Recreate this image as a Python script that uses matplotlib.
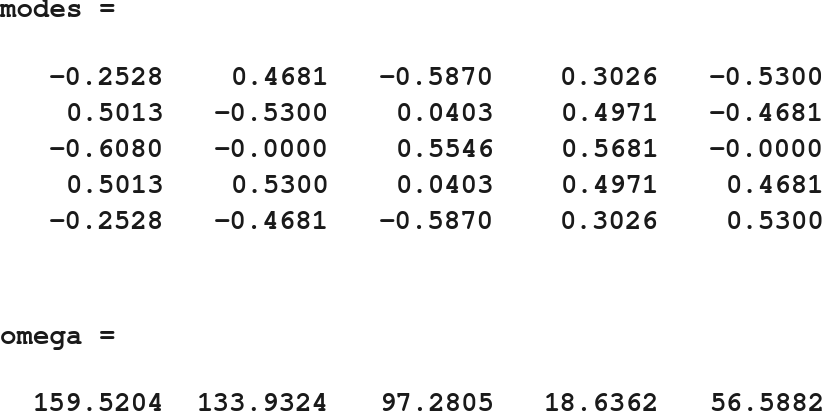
import matplotlib
matplotlib.use("Agg")
import matplotlib.pyplot as plt

modes_row1 = [-0.2528, 0.4681, -0.5870, 0.3026, -0.5300]
modes_row2 = [0.5013, -0.5300, 0.0403, 0.4971, -0.4681]
modes_row3 = [-0.6080, -0.0000, 0.5546, 0.5681, -0.0000]
modes_row4 = [0.5013, 0.5300, 0.0403, 0.4971, 0.4681]
modes_row5 = [-0.2528, -0.4681, -0.5870, 0.3026, 0.5300]
omega = [159.5204, 133.9324, 97.2805, 18.6362, 56.5882]

modes = [modes_row1, modes_row2, modes_row3, modes_row4, modes_row5]

fig = plt.figure(figsize=(8.3, 4.2), dpi=100)
ax = fig.add_axes([0, 0, 1, 1])
ax.set_xlim(0, 830)
ax.set_ylim(420, 0)
ax.axis("off")

fams = ["Courier New", "Nimbus Mono PS", "FreeMono", "Courier", "Liberation Mono"]
font = dict(family=fams, fontsize=19.8, color="#1a1a1a", weight="bold")

ax.text(0, 11, "modes =", ha="left", va="center", **font)

col_right = [164, 329, 494, 659, 824]
row_y = [79, 115, 151, 187, 223]
for r, row in enumerate(modes):
    for c, v in enumerate(row):
        ax.text(col_right[c], row_y[r], f"{v:.4f}", ha="right", va="center", **font)

ax.text(0, 338, "omega =", ha="left", va="center", **font)
for c, v in enumerate(omega):
    ax.text(col_right[c], 405, f"{v:.4f}", ha="right", va="center", **font)

fig.savefig("out.png", dpi=100)
